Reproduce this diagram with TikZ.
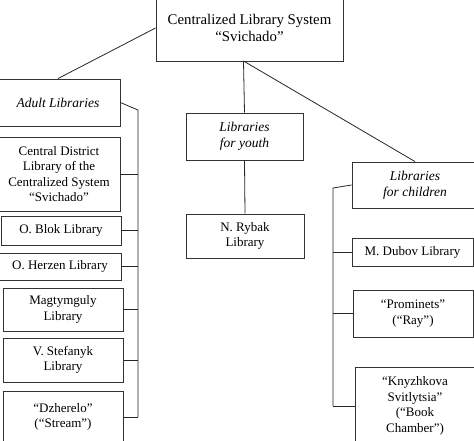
\documentclass[tikz,border=0pt]{standalone}
\usepackage{fontspec}
\setmainfont{Liberation Serif}
\usetikzlibrary{positioning,calc}
\tikzset{
  library/.style={draw=black!80,line width=0.9pt,rectangle,align=center,
    inner sep=0pt,font=\fontsize{13}{15.5}\selectfont},
  group/.style={library,font=\fontsize{13.5}{16}\selectfont\itshape},
  root/.style={library,font=\fontsize{14.8}{17}\selectfont},
  link/.style={-,draw=black!85,line width=0.8pt},
  chart/.style={x=1pt,y=-1pt}
}
\begin{document}
\begin{tikzpicture}[chart]
  \useasboundingbox (0,0) rectangle (474,441);
  % root and the three groups
  \node[root,minimum width=187pt,minimum height=66pt] (cls) at (249.5,28) {Centralized Library System\\``Svichado''};
  \node[group,minimum width=124pt,minimum height=47pt] (adult) at (58,102.5) {Adult Libraries};
  \node[group,minimum width=117pt,minimum height=47pt] (youth) at (244.5,136.5) {Libraries\\for youth};
  \node[group,minimum width=126pt,minimum height=46pt] (children) at (415,185) {Libraries\\for children};
  % adult libraries
  \node[library,minimum width=122pt,minimum height=74pt] (central) at (59,174) {Central District\\Library of the\\Centralized System\\``Svichado''};
  \node[library,minimum width=120pt,minimum height=29pt] (blok) at (61,230.5) {O. Blok Library};
  \node[library,minimum width=122pt,minimum height=27pt] (herzen) at (60,266.5) {O. Herzen Library};
  \node[library,minimum width=120pt,minimum height=43pt] (magtymguly) at (63,309.5) {Magtymguly\\Library};
  \node[library,minimum width=120pt,minimum height=44pt] (stefanyk) at (63,360) {V. Stefanyk\\Library};
  \node[library,minimum width=120pt,minimum height=52pt] (dzherelo) at (63,417) {``Dzherelo''\\(``Stream'')};
  % libraries for youth
  \node[library,minimum width=118pt,minimum height=44pt] (rybak) at (245,236) {N. Rybak\\Library};
  % libraries for children
  \node[library,minimum width=121pt,minimum height=28pt] (dubov) at (412.5,252) {M. Dubov Library};
  \node[library,minimum width=120pt,minimum height=47pt] (prominets) at (413,313.5) {``Prominets''\\(``Ray'')};
  \node[library,minimum width=120pt,minimum height=78pt] (knyzhkova) at (415,406) {``Knyzhkova\\Svitlytsia''\\(``Book\\Chamber'')};
  \coordinate (hub) at (243.5,61);
  \coordinate (aspine) at (138,110);
  \coordinate (cspine) at (333,188);
  \draw[link] (cls.west) -- (adult.north);
  \draw[link] (hub) -- (youth.north);
  \draw[link] (hub) -- (children.north);
  \draw[link] (youth.south) -- (rybak.north);
  \draw[link] (adult.east) -- (aspine) -- (aspine |- dzherelo.east);
  \foreach \lib in {central,blok,herzen,magtymguly,stefanyk,dzherelo}
    \draw[link] (\lib.east) -- (aspine |- \lib.east);
  \draw[link] (children.west) -- (cspine) -- (cspine |- knyzhkova.west);
  \foreach \lib in {dubov,prominets,knyzhkova}
    \draw[link] (\lib.west) -- (cspine |- \lib.west);
\end{tikzpicture}
\end{document}
